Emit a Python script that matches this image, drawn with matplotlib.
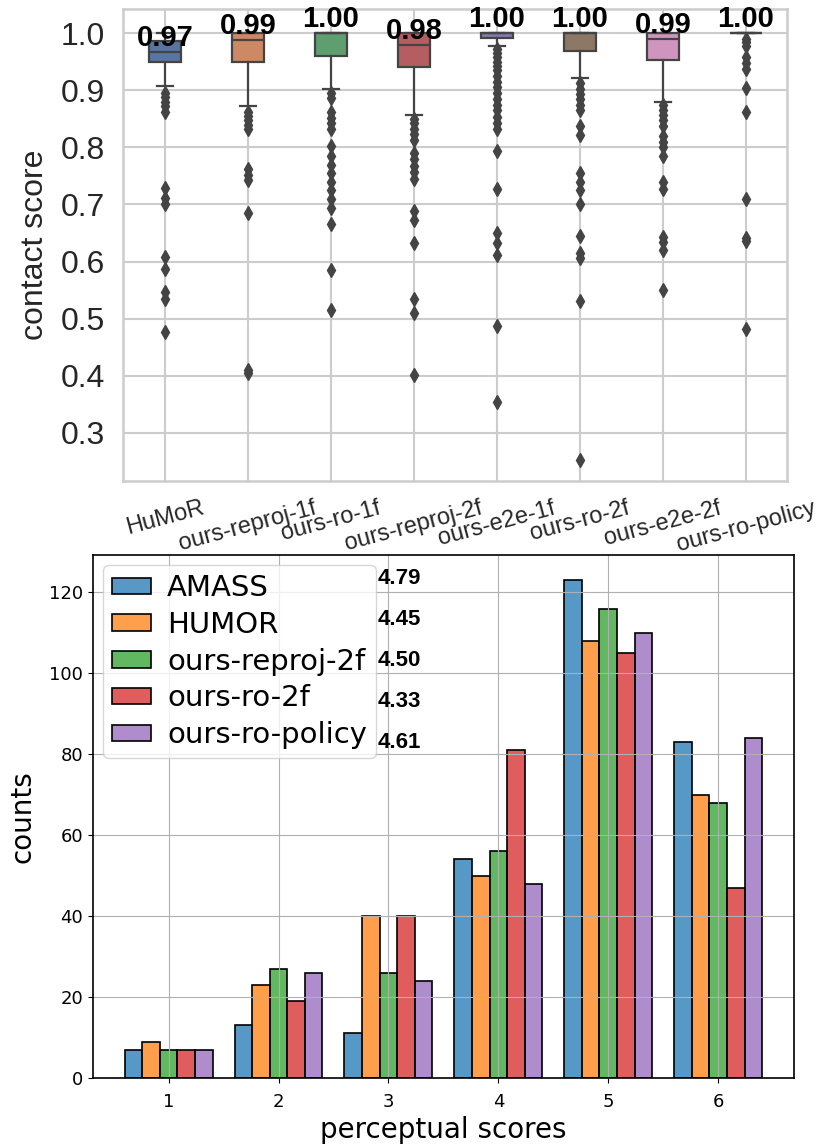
import matplotlib
matplotlib.use('Agg')
import matplotlib.pyplot as plt
import matplotlib.colors as mcolors
import seaborn as sns

# ---- data: contact score boxplot ----
methods = ['HuMoR', 'ours-reproj-1f', 'ours-ro-1f', 'ours-reproj-2f',
           'ours-e2e-1f', 'ours-ro-2f', 'ours-e2e-2f', 'ours-ro-policy']
q1 = [0.949, 0.949, 0.960, 0.941, 0.991, 0.969, 0.954, 1.0]
median = [0.967, 0.989, 1.0, 0.980, 1.0, 1.0, 0.990, 1.0]
q3 = [0.987, 1.0, 1.0, 1.0, 1.0, 1.0, 1.0, 1.0]
whisker_low = [0.907, 0.873, 0.903, 0.856, 0.977, 0.922, 0.880, 1.0]
whisker_high = [1.0, 1.0, 1.0, 1.0, 1.0, 1.0, 1.0, 1.0]
fliers = [
    [0.895, 0.888, 0.880, 0.872, 0.862, 0.728, 0.712, 0.700, 0.608, 0.587, 0.547, 0.535, 0.477],
    [0.862, 0.855, 0.848, 0.840, 0.832, 0.762, 0.752, 0.742, 0.685, 0.410, 0.405],
    [0.895, 0.887, 0.862, 0.852, 0.842, 0.832, 0.802, 0.785, 0.770, 0.755, 0.740, 0.725,
     0.710, 0.694, 0.666, 0.585, 0.515],
    [0.850, 0.842, 0.833, 0.823, 0.813, 0.790, 0.780, 0.768, 0.757, 0.745, 0.688, 0.672,
     0.633, 0.535, 0.509, 0.402],
    [0.972, 0.965, 0.958, 0.950, 0.942, 0.935, 0.925, 0.915, 0.905, 0.895, 0.885, 0.875,
     0.865, 0.853, 0.843, 0.832, 0.794, 0.727, 0.650, 0.632, 0.612, 0.487, 0.353],
    [0.912, 0.902, 0.893, 0.884, 0.875, 0.866, 0.838, 0.822, 0.755, 0.740, 0.725, 0.700,
     0.644, 0.615, 0.607, 0.530, 0.252],
    [0.875, 0.866, 0.857, 0.848, 0.838, 0.820, 0.810, 0.800, 0.785, 0.740, 0.727, 0.643,
     0.635, 0.620, 0.550],
    [0.990, 0.985, 0.978, 0.958, 0.948, 0.938, 0.904, 0.862, 0.709, 0.642, 0.636, 0.482],
]

# ---- data: perceptual score histogram ----
scores = [1, 2, 3, 4, 5, 6]
series_names = ['AMASS', 'HUMOR', 'ours-reproj-2f', 'ours-ro-2f', 'ours-ro-policy']
amass = [7, 13, 11, 54, 123, 83]
humor = [9, 23, 40, 50, 108, 70]
reproj_2f = [7, 27, 26, 56, 116, 68]
ro_2f = [7, 19, 40, 81, 105, 47]
ro_policy = [7, 26, 24, 48, 110, 84]
mean_scores = ['4.79', '4.45', '4.50', '4.33', '4.61']

fig = plt.figure(figsize=(8.28, 11.48), dpi=100)

# ================= top: boxplot (seaborn whitegrid look) =================
ax1 = fig.add_axes([0.149, 0.5813, 0.802, 0.4106])
box_colors = [sns.desaturate(c, 0.75) for c in sns.color_palette('deep', 8)]
gray = '#444444'
arial = 'Liberation Sans'

stats = []
for i, name in enumerate(methods):
    stats.append(dict(label=name, med=median[i], q1=q1[i], q3=q3[i],
                      whislo=whisker_low[i], whishi=whisker_high[i], fliers=fliers[i]))

bp = ax1.bxp(stats, positions=range(len(methods)), widths=0.38, patch_artist=True,
             boxprops=dict(edgecolor=gray, linewidth=1.6),
             medianprops=dict(color=gray, linewidth=1.6),
             whiskerprops=dict(color=gray, linewidth=1.6),
             capprops=dict(color=gray, linewidth=1.6),
             flierprops=dict(marker='d', markerfacecolor=gray, markeredgecolor=gray,
                             markersize=7.5, linestyle='none'))
for patch, c in zip(bp['boxes'], box_colors):
    patch.set_facecolor(c)

# median value above each box
for i, m in enumerate(median):
    ax1.text(i, m, f'{m:.2f}', ha='center', va='bottom', fontsize=21,
             fontweight='bold', family=arial, color='black', zorder=10, clip_on=False)

ax1.set_xlim(-0.5, len(methods) - 0.5)
ax1.set_ylim(0.216, 1.042)
ax1.set_yticks([0.3, 0.4, 0.5, 0.6, 0.7, 0.8, 0.9, 1.0])
ax1.set_axisbelow(True)
ax1.grid(True, color='#cccccc', linewidth=1.5)
for sp in ax1.spines.values():
    sp.set_color('#cccccc')
    sp.set_linewidth(1.8)
ax1.tick_params(axis='both', length=0, colors='#262626')
ax1.tick_params(axis='y', labelsize=23, pad=13)
ax1.tick_params(axis='x', labelsize=17, pad=12)
for lbl in ax1.get_yticklabels():
    lbl.set_family(arial)
ax1.set_xticks(range(len(methods)))
ax1.set_xticklabels(methods, rotation=15, family=arial)
ax1.set_ylabel('contact score', fontsize=23, family=arial, color='#262626', labelpad=8)

# ================= bottom: grouped bar chart =================
ax2 = fig.add_axes([0.112, 0.061, 0.847, 0.4553])
series = [amass, humor, reproj_2f, ro_2f, ro_policy]
tab = ['tab:blue', 'tab:orange', 'tab:green', 'tab:red', 'tab:purple']
width = 0.16
for i, (vals, name) in enumerate(zip(series, series_names)):
    xs = [s + (i - 2) * width for s in scores]
    ax2.bar(xs, vals, width=width, color=mcolors.to_rgba(tab[i], 0.75),
            edgecolor='black', linewidth=1.2, label=name)

ax2.grid(True)
ax2.set_xticks(scores)
ax2.set_yticks([0, 20, 40, 60, 80, 100, 120])
ax2.tick_params(axis='both', labelsize=13)
ax2.tick_params(axis='x', pad=7)
ax2.set_xlabel('perceptual scores', fontsize=20)
ax2.set_ylabel('counts', fontsize=20, labelpad=9)
for sp in ax2.spines.values():
    sp.set_linewidth(1.2)

ax2.legend(loc='upper left', fontsize=21, handlelength=1.35, handleheight=0.5,
           handletextpad=0.55, labelspacing=0.3, borderpad=0.3, borderaxespad=0.35)

# mean perceptual score next to each legend entry
for i, txt in enumerate(mean_scores):
    ax2.text(2.9, 123.5 - 10.15 * i, txt, ha='left', va='center', fontsize=16,
             fontweight='bold', family=arial, color='black')

fig.savefig('out.png', dpi=100)
